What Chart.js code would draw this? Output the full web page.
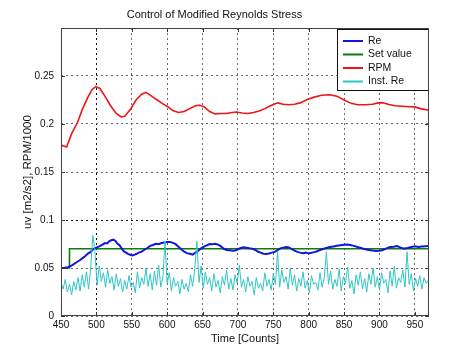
<!DOCTYPE html>
<html><head><meta charset="utf-8">
<script src="https://cdn.jsdelivr.net/npm/chart.js@4.4.0/dist/chart.umd.min.js"></script>
<style>html,body{margin:0;padding:0;background:#fff}</style>
</head><body>
<canvas id="c" width="474" height="355"></canvas>
<script>
const titleText = 'Control of Modified Reynolds Stress';
const xTitle = 'Time [Counts]';
const yTitle = 'uv [m2/s2], RPM/1000';
const xTicks = [450,500,550,600,650,700,750,800,850,900,950];
const yTicks = [0,0.05,0.1,0.15,0.2,0.25];
const seriesNames = ['Re','Set value','RPM','Inst. Re'];
const seriesColors = ['#1414dc','#0b7d0b','#f01414','#30c6c6'];

const reTime = [450,455,460,464,468,472,476,480,484,488,492,496,500,504,508,512,515,518,521,524,527,530,533,536,539,542,545,548,551,554,557,560,564,568,572,576,580,584,588,592,596,600,604,608,612,616,620,624,628,632,636,640,644,648,652,656,660,664,668,672,676,680,684,688,692,696,700,704,708,712,716,720,724,728,732,736,740,744,748,752,756,760,764,768,772,776,780,784,788,792,796,800,804,808,812,816,820,825,830,835,840,845,850,855,860,865,870,875,880,885,890,895,900,905,910,915,920,925,930,935,940,945,950,955,960,965,970];
const reValues = [0.0500,0.0503,0.0508,0.0521,0.0540,0.0560,0.0578,0.0600,0.0622,0.0650,0.0668,0.0700,0.0712,0.0725,0.0742,0.0760,0.0755,0.0778,0.0790,0.0795,0.0782,0.0752,0.0735,0.0700,0.0672,0.0660,0.0645,0.0638,0.0630,0.0640,0.0648,0.0660,0.0670,0.0690,0.0708,0.0730,0.0740,0.0752,0.0748,0.0760,0.0765,0.0770,0.0772,0.0762,0.0748,0.0722,0.0695,0.0670,0.0655,0.0648,0.0640,0.0660,0.0680,0.0705,0.0722,0.0735,0.0750,0.0748,0.0752,0.0744,0.0725,0.0700,0.0688,0.0686,0.0680,0.0682,0.0695,0.0708,0.0716,0.0712,0.0705,0.0702,0.0690,0.0672,0.0660,0.0648,0.0645,0.0652,0.0660,0.0668,0.0685,0.0705,0.0712,0.0718,0.0714,0.0698,0.0680,0.0668,0.0660,0.0655,0.0660,0.0652,0.0658,0.0665,0.0675,0.0688,0.0698,0.0708,0.0718,0.0725,0.0732,0.0738,0.0742,0.0745,0.0738,0.0728,0.0716,0.0705,0.0695,0.0688,0.0682,0.0678,0.0680,0.0688,0.0705,0.0718,0.0722,0.0728,0.0712,0.0702,0.0708,0.0718,0.0726,0.0720,0.0724,0.0726,0.0728];

const setTime = [450,462,462,970];
const setValues = [0.05,0.05,0.07,0.07];

const rpmTime = [450,458,465,473,480,488,494,499,505,512,520,528,535,540,548,556,564,570,578,586,594,601,608,616,624,632,640,646,652,660,668,676,684,692,698,706,714,722,730,738,746,756,764,772,780,788,798,808,818,830,840,850,860,869,880,890,898,905,912,922,932,942,950,958,968,970];
const rpmValues = [0.178,0.176,0.19,0.201,0.215,0.228,0.236,0.239,0.237,0.229,0.219,0.211,0.2075,0.208,0.215,0.225,0.231,0.233,0.229,0.225,0.221,0.218,0.214,0.212,0.213,0.216,0.219,0.2195,0.218,0.213,0.2105,0.211,0.211,0.212,0.2125,0.2115,0.211,0.212,0.2135,0.216,0.219,0.222,0.2205,0.220,0.2205,0.222,0.2255,0.228,0.230,0.2305,0.229,0.225,0.2215,0.220,0.220,0.2205,0.222,0.2222,0.2205,0.219,0.2185,0.218,0.2178,0.216,0.2145,0.214];

const instStart = 450, instStep = 3;
const instValues = [
0.035,0.028,0.038,0.025,0.033,0.022,0.036,0.027,0.040,0.026,
0.043,0.030,0.046,0.028,0.050,0.084,0.067,0.032,0.052,0.036,
0.045,0.030,0.048,0.034,0.041,0.027,0.044,0.031,0.039,0.025,
0.037,0.028,0.042,0.030,0.035,0.024,0.046,0.029,0.040,0.033,
0.050,0.031,0.044,0.027,0.047,0.032,0.053,0.030,0.041,0.078,
0.034,0.045,0.026,0.040,0.031,0.036,0.023,0.038,0.028,0.034,
0.025,0.043,0.031,0.049,0.078,0.035,0.052,0.029,0.046,0.033,
0.040,0.026,0.044,0.030,0.037,0.024,0.041,0.032,0.048,0.028,
0.039,0.027,0.043,0.034,0.053,0.030,0.038,0.025,0.041,0.031,
0.036,0.022,0.040,0.029,0.034,0.026,0.045,0.031,0.038,0.027,
0.044,0.033,0.067,0.030,0.048,0.035,0.041,0.028,0.050,0.032,
0.043,0.026,0.039,0.031,0.046,0.029,0.037,0.024,0.042,0.033,
0.035,0.027,0.045,0.030,0.040,0.067,0.033,0.047,0.028,0.038,
0.031,0.049,0.026,0.041,0.034,0.051,0.029,0.037,0.023,0.043,
0.032,0.046,0.028,0.039,0.025,0.044,0.033,0.050,0.030,0.041,
0.027,0.045,0.034,0.038,0.024,0.047,0.031,0.052,0.029,0.040,
0.035,0.048,0.030,0.067,0.033,0.044,0.026,0.039,0.031,0.042,
0.028,0.040,0.034,0.037];

const pts = (xs, ys) => ys.map((v, i) => ({x: xs[i], y: v}));
const instPts = instValues.map((v, i) => ({x: instStart + instStep * i, y: v}));

const FONT = "'Liberation Sans', Arial, Helvetica, sans-serif";

const framePlugin = {
  id: 'frame',
  afterDatasetsDraw(chart) {
    const {ctx, chartArea: a, scales} = chart;
    ctx.save();
    ctx.strokeStyle = '#333';
    ctx.lineWidth = 1;
    ctx.beginPath();
    xTicks.forEach(t => {
      const x = Math.round(scales.x.getPixelForValue(t)) + 0.5;
      ctx.moveTo(x, a.bottom); ctx.lineTo(x, a.bottom - 4);
      ctx.moveTo(x, a.top); ctx.lineTo(x, a.top + 4);
    });
    yTicks.forEach(t => {
      const y = Math.round(scales.y.getPixelForValue(t)) + 0.5;
      ctx.moveTo(a.left, y); ctx.lineTo(a.left + 4, y);
      ctx.moveTo(a.right, y); ctx.lineTo(a.right - 4, y);
    });
    ctx.stroke();
    const lw = 91, lh = 61;
    const lx = a.right - 92, ly = a.top + 1;
    ctx.fillStyle = '#fff';
    ctx.fillRect(lx, ly, lw, lh);
    ctx.strokeStyle = '#111';
    ctx.strokeRect(lx + 0.5, ly + 0.5, lw, lh);
    ctx.font = "10.5px " + FONT;
    ctx.textBaseline = 'middle';
    ctx.textAlign = 'left';
    seriesNames.forEach((n, i) => {
      const yy = ly + 12 + i * 13.5;
      ctx.strokeStyle = seriesColors[i];
      ctx.lineWidth = 2;
      ctx.beginPath();
      ctx.moveTo(lx + 6, yy); ctx.lineTo(lx + 26, yy);
      ctx.stroke();
      ctx.fillStyle = '#111';
      ctx.fillText(n, lx + 31, yy);
    });
    ctx.strokeStyle = '#444';
    ctx.lineWidth = 1;
    ctx.strokeRect(Math.round(a.left) + 0.5, Math.round(a.top) + 0.5, Math.round(a.right - a.left) - 1, Math.round(a.bottom - a.top) - 1);
    ctx.restore();
  }
};

new Chart(document.getElementById('c'), {
  type: 'line',
  data: {
    datasets: [
      {label: seriesNames[3], data: instPts, borderColor: seriesColors[3], borderWidth: 1, order: 0},
      {label: seriesNames[0], data: pts(reTime, reValues), borderColor: seriesColors[0], borderWidth: 2, order: 1},
      {label: seriesNames[1], data: pts(setTime, setValues), borderColor: seriesColors[1], borderWidth: 1.6, order: 2},
      {label: seriesNames[2], data: pts(rpmTime, rpmValues), borderColor: seriesColors[2], borderWidth: 1.6, order: 3}
    ]
  },
  options: {
    responsive: false,
    animation: false,
    devicePixelRatio: 1,
    layout: {padding: {left: 0, right: 45, top: 0, bottom: 0}},
    elements: {point: {radius: 0}, line: {tension: 0}},
    plugins: {
      legend: {display: false},
      tooltip: {enabled: false},
      title: {display: true, text: titleText, color: '#111', font: {family: FONT, size: 11, weight: 'normal'}, padding: {top: 8, bottom: 6.8}}
    },
    scales: {
      x: {
        type: 'linear', min: 450, max: 970,
        afterFit: s => { s.height = 39; },
        afterBuildTicks: s => { s.ticks = xTicks.map(v => ({value: v})); },
        ticks: {color: '#111', font: {family: FONT, size: 10}, padding: 3, maxRotation: 0, autoSkip: false},
        grid: {drawTicks: false, color: c => (c.tick && c.tick.value === 500) ? '#111' : '#6a6a6a', lineWidth: 1},
        border: {display: false, dash: [2, 3]},
        title: {display: true, text: xTitle, color: '#111', font: {family: FONT, size: 11}, padding: {top: 0, bottom: 9.4}}
      },
      y: {
        type: 'linear', min: 0, max: 0.3,
        afterFit: s => { s.width = 61; },
        afterBuildTicks: s => { s.ticks = yTicks.concat([0.3]).map(v => ({value: v})); },
        ticks: {color: '#111', font: {family: FONT, size: 10}, padding: 7, autoSkip: false,
          callback: v => v > 0.26 ? '' : String(Number(v.toFixed(2)))},
        grid: {drawTicks: false, color: c => (c.tick && Math.abs(c.tick.value - 0.1) < 1e-9) ? '#111' : '#6a6a6a', lineWidth: 1},
        border: {display: false, dash: [2, 3]},
        title: {display: true, text: yTitle, color: '#111', font: {family: FONT, size: 11.5}, padding: {top: 21, bottom: 0}}
      }
    }
  },
  plugins: [framePlugin]
});
</script>
</body></html>
